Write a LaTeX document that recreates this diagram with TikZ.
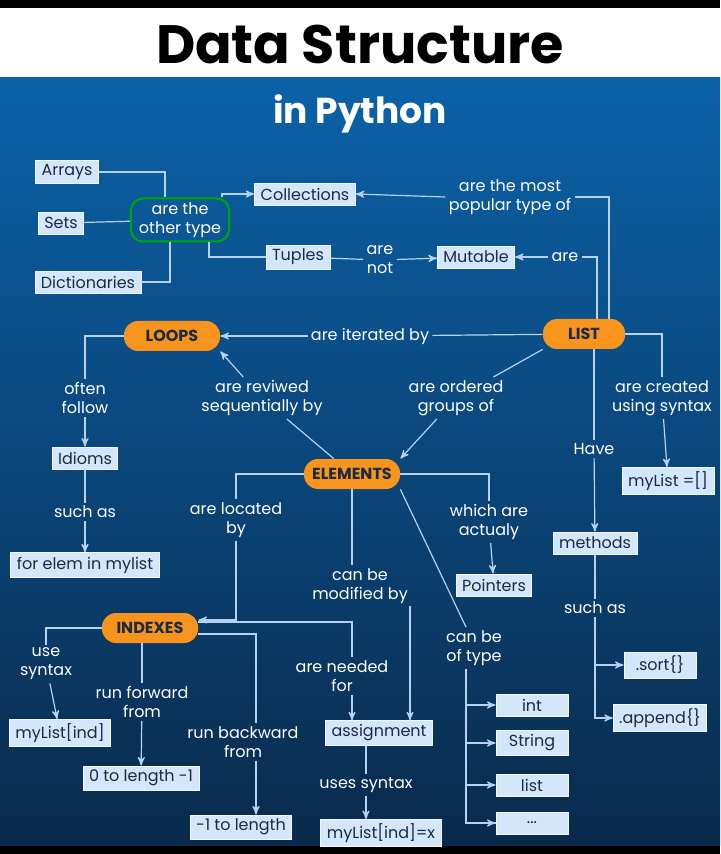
\documentclass[tikz,border=0pt]{standalone}
\usepackage{fontspec}
\setmainfont{Poppins}
\usetikzlibrary{arrows, positioning}
\definecolor{bgtop}{HTML}{0B62A8}
\definecolor{bgbot}{HTML}{0A2A4C}
\definecolor{boxfill}{HTML}{D3E6FA}
\definecolor{boxtext}{HTML}{1B2A45}
\definecolor{hubfill}{HTML}{F7941D}
\definecolor{wire}{HTML}{B5D2F0}
\tikzset{x=0.5pt, y=-0.5pt, % one unit is one pixel of the reference
box/.style={ % light concept boxes
fill=boxfill, draw=white!70!boxfill, text=boxtext, font=\fontsize{8}{9}\selectfont,
inner xsep=3pt, inner ysep=2pt, minimum height=11pt},
hub/.style={ % orange main concepts
fill=hubfill, text=boxtext, rounded corners=7pt, font=\bfseries\fontsize{8}{9}\selectfont,
minimum width=48pt, minimum height=15pt},
tag/.style={ % linking phrases
text=white, align=center, font=\fontsize{8}{9.5}\selectfont, inner sep=1.5pt},
link/.style={draw=wire, semithick},
arrow/.style={link, ->, >=stealth'}}
\begin{document}
\begin{tikzpicture}
    \useasboundingbox (0,0) rectangle (720,854);
    \fill[black] (0,0) rectangle (720,854);
    \fill[white] (0,8) rectangle (720,78);
    \fill[top color=bgtop, bottom color=bgbot] (0,78) rectangle (720,845);
    \node[font=\bfseries\fontsize{27}{30}\selectfont] (title) at (360,44) {Data Structure};
    \node[font=\bfseries\fontsize{18}{20}\selectfont, text=white] (sub) at (360,114) {in Python};

    % top part
    \node[box] (arrays) at (67,172) {Arrays};
    \node[box] (sets) at (61,223) {Sets};
    \node[box] (dicts) at (88,282) {Dictionaries};
    \node[tag, draw=green!65!black, line width=1pt, rounded corners=6pt, inner xsep=4pt, inner ysep=2pt] (othertype) at (180,220) {are the\\other type};
    \node[box] (coll) at (305,194) {Collections};
    \node[box] (tuples) at (298,257) {Tuples};
    \node[box] (mutable) at (476,257) {Mutable};
    \node[tag] (popular) at (510,197) {are the most\\popular type of};
    \node[tag] (arenot) at (380,260) {are\\not};
    \node[tag] (are) at (565,257) {are};

    % main concepts
    \node[hub] (loops) at (172,336) {LOOPS};
    \node[hub, minimum width=41pt] (list) at (584,334) {LIST};
    \node[hub] (elements) at (352,474) {ELEMENTS};
    \node[hub] (indexes) at (150,628) {INDEXES};

    \node[tag] (iter) at (370,336) {are iterated by};
    \node[tag] (often) at (85,398) {often\\follow};
    \node[tag] (reviewed) at (262,398) {are reviwed\\sequentially by};
    \node[tag] (ordered) at (456,398) {are ordered\\groups of};
    \node[tag] (created) at (662,398) {are created\\using syntax};
    \node[box] (idioms) at (85,458) {Idioms};
    \node[tag] (have) at (594,449) {Have};
    \node[box] (mylist0) at (668,481) {myList =[]};
    \node[tag] (suchas1) at (85,512) {such as};
    \node[tag] (located) at (236,520) {are located\\by};
    \node[tag] (actualy) at (489,522) {which are\\actualy};
    \node[box] (methods) at (595,543) {methods};
    \node[box] (forelem) at (85,565) {for elem in mylist};
    \node[tag] (modified) at (360,586) {can be\\modified by};
    \node[box] (pointers) at (494,585) {Pointers};
    \node[tag] (suchas2) at (595,608) {such as};

    % lower part
    \node[tag] (usesyn) at (46,664) {use\\syntax};
    \node[tag] (forward) at (142,702) {run forward\\from};
    \node[tag] (needed) at (342,676) {are needed\\for};
    \node[tag] (oftype) at (474,648) {can be\\of type};
    \node[box, minimum width=36pt] (sort) at (660,665) {.sort\{\}};
    \node[box] (append) at (660,718) {.append\{\}};
    \node[box] (idx) at (60,733) {myList[ind]};
    \node[tag] (backward) at (243,742) {run backward\\from};
    \node[box] (assign) at (379,733) {assignment};
    \node[box, minimum width=36pt] (int) at (532,705) {int};
    \node[box, minimum width=36pt] (string) at (532,743) {String};
    \node[box, minimum width=36pt] (lst) at (532,785) {list};
    \node[box] (fwdrange) at (141,778) {0 to length -1};
    \node[tag] (usessyn) at (366,785) {uses syntax};
    \node[box] (bwdrange) at (241,827) {-1 to length};
    \node[box] (assignx) at (381,833) {myList[ind]=x};
    \node[box, minimum width=36pt] (dots) at (532,823) {...};

    % connectors, top
    \draw[link] (arrays.east) -| ([xshift=-7.5pt]othertype.north);
    \draw[link] (sets) -- (othertype);
    \draw[link] (dicts.east) -| ([xshift=-5pt]othertype.south);
    \draw[arrow] ([xshift=21pt]othertype.north) |- (coll.west);
    \draw[link] ([xshift=14.5pt]othertype.south) |- (tuples.west);
    \draw[link] (tuples) -- (arenot);
    \draw[arrow] (arenot) -- (mutable);
    \draw[link] ([xshift=6.5pt]list.north) |- (are);
    \draw[arrow] (are) -- (mutable);
    \draw[link] ([xshift=12.5pt]list.north) |- (popular.east);
    \draw[arrow] (popular.west) -- (coll.east);

    % connectors, middle
    \draw[link] (list) -- (iter);
    \draw[arrow] (iter) -- (loops);
    \draw[link] (list.east) -| (created);
    \draw[arrow] (created) -- (mylist0);
    \draw[link] (list.south -| have) -- (have);
    \draw[arrow] (have) -- (methods);
    \draw[link] (list.south west) -- (ordered);
    \draw[arrow] (ordered) -- (elements.north east);
    \draw[link] (elements) -- (reviewed);
    \draw[arrow] (reviewed) -- (loops.south east);
    \draw[link] (loops.west) -| (often);
    \draw[arrow] (often) -- (idioms);
    \draw[link] (idioms) -- (suchas1);
    \draw[arrow] (suchas1) -- (forelem);
    \draw[link] (elements.west) -| (located);
    \draw[arrow] (located.south) |- ([yshift=4pt]indexes.east);
    \draw[link] (elements.east) -| (actualy);
    \draw[arrow] (actualy) -- (pointers);
    \draw[link] (elements.south) -- (elements.south |- modified.north);
    \draw[arrow] (modified.south east) -| ([xshift=15.5pt]assign.north);
    \draw[link] (elements.south east) -- ([xshift=-4pt]oftype.north);

    % connectors, bottom
    \coordinate (trunk) at ([xshift=-4pt]oftype.south);
    \draw[link] (trunk) |- (dots.west);
    \foreach \t in {int, string, lst, dots}
        \draw[arrow] (trunk |- \t) -- (\t);
    \draw[link] (indexes.west) -| (usesyn);
    \draw[arrow] (usesyn) -- (idx);
    \draw[link] (indexes.south -| forward) -- (forward);
    \draw[arrow] (forward) -- (fwdrange);
    \draw[link] ([yshift=-3pt]indexes.east) -| ([xshift=6.5pt]backward.north);
    \draw[arrow] ([xshift=6.5pt]backward.south) -- ([xshift=6.5pt]backward.south |- bwdrange.north);
    \draw[link] ([yshift=3pt]indexes.east) -| ([xshift=5pt]needed.north);
    \draw[arrow] ([xshift=5pt]needed.south) -- ([xshift=5pt]needed.south |- assign.north);
    \draw[link] (assign.south -| usessyn) -- (usessyn);
    \draw[arrow] (usessyn) -- (usessyn |- assignx.north);
    \draw[link] (methods) -- (suchas2);
    \draw[arrow] (suchas2.south) |- (append.west);
    \draw[arrow] (suchas2.south |- sort) -- (sort.west);
\end{tikzpicture}
\end{document}
